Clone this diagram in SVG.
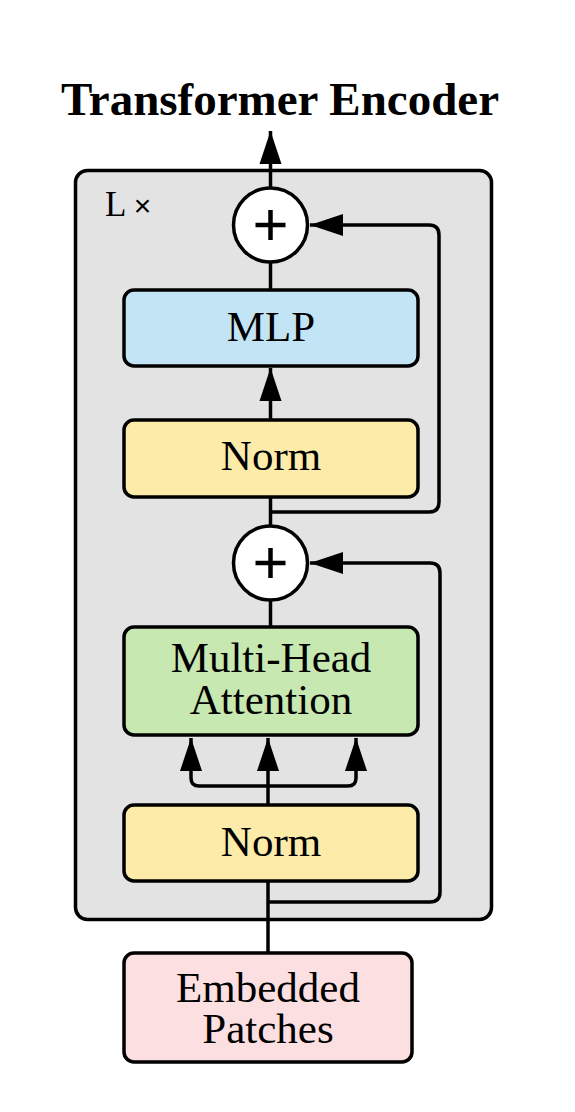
<svg xmlns="http://www.w3.org/2000/svg" width="575" height="1112" viewBox="0 0 575 1112">
<style>
.box{stroke:#000;stroke-width:3.5}
.lbl{font-family:"Liberation Serif","Times New Roman",serif;font-size:43px;text-anchor:middle;fill:#000}
.ln{fill:none;stroke:#000;stroke-width:3.5;stroke-linejoin:round}
.add{fill:#fff;stroke:#000;stroke-width:3.5}
.plus{stroke:#000;stroke-width:4.5}
</style>
<defs>
<marker id="ah" markerUnits="userSpaceOnUse" markerWidth="34" markerHeight="24" refX="33" refY="11" orient="auto" viewBox="0 0 34 22">
<path d="M0,0 L33,11 L0,22 z" fill="#000"/>
</marker>
</defs>
<rect width="575" height="1112" fill="#fff"/>
<text x="280" y="115" font-family="Liberation Serif,Times New Roman,serif" font-size="47" font-weight="bold" text-anchor="middle">Transformer Encoder</text>
<g id="encoder-block">
<rect x="75.5" y="170.5" width="416" height="749" rx="12" fill="#e3e3e3" class="box"/>
<text x="105" y="216" font-family="Liberation Serif,Times New Roman,serif" font-size="35">L <tspan font-family="Liberation Sans,Arial,sans-serif" font-size="30">×</tspan></text>
</g>
<g id="connectors">
<path class="ln" d="M270.5,188 V131" marker-end="url(#ah)"/>
<path class="ln" d="M270.5,290 V262"/>
<path class="ln" d="M270.5,420 V368" marker-end="url(#ah)"/>
<path class="ln" d="M270.5,497 V526"/>
<path class="ln" d="M270.5,512 H429 Q439,512 439,502 V235 Q439,225 429,225 H310" marker-end="url(#ah)"/>
<path class="ln" d="M270.5,600 V627"/>
<path class="ln" d="M268,881 V953"/>
<path class="ln" d="M268,902 H430 Q440,902 440,892 V573 Q440,563 430,563 H310" marker-end="url(#ah)"/>
<path class="ln" d="M268,805 V786"/>
<path class="ln" d="M268,786 V738" marker-end="url(#ah)"/>
<path class="ln" d="M268,786 H199 Q191,786 191,778 V738" marker-end="url(#ah)"/>
<path class="ln" d="M268,786 H348 Q356,786 356,778 V738" marker-end="url(#ah)"/>
</g>
<g id="add-top">
<circle cx="270.5" cy="225" r="37" class="add"/>
<path class="plus" d="M255.5,225 H285.5 M270.5,210 V240"/>
</g>
<g id="mlp">
<rect x="124" y="290" width="294" height="76" rx="10" fill="#c3e4f5" class="box"/>
<text x="271" y="341" class="lbl">MLP</text>
</g>
<g id="norm-top">
<rect x="124" y="420" width="294" height="77" rx="10" fill="#fdebaa" class="box"/>
<text x="271" y="470" class="lbl">Norm</text>
</g>
<g id="add-bottom">
<circle cx="270.5" cy="563" r="37" class="add"/>
<path class="plus" d="M255.5,563 H285.5 M270.5,548 V578"/>
</g>
<g id="mha">
<rect x="124" y="627" width="294" height="108" rx="10" fill="#c7e8b0" class="box"/>
<text x="271" y="672" class="lbl">Multi-Head</text>
<text x="271" y="714" class="lbl">Attention</text>
</g>
<g id="norm-bottom">
<rect x="124" y="805" width="294" height="76" rx="10" fill="#fdebaa" class="box"/>
<text x="271" y="856" class="lbl">Norm</text>
</g>
<g id="embedded">
<rect x="124" y="953" width="288" height="109" rx="10" fill="#fcdfe0" class="box"/>
<text x="268" y="1002" class="lbl">Embedded</text>
<text x="268" y="1043" class="lbl">Patches</text>
</g>
</svg>
